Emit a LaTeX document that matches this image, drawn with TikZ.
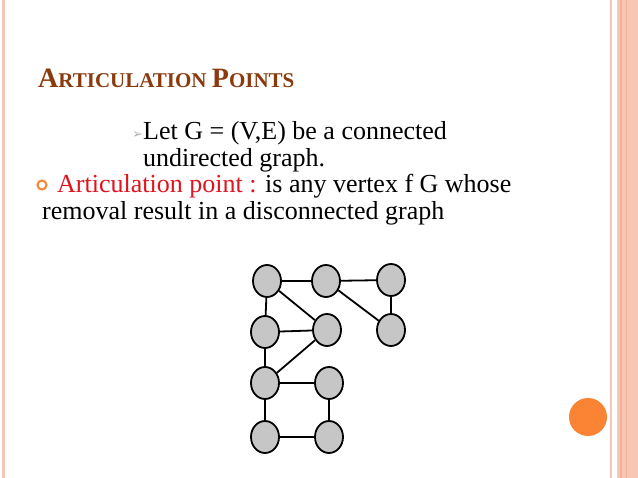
\documentclass[tikz,border=0pt]{standalone}
\usepackage{fontspec}
\setmainfont{Liberation Serif}
\newfontfamily\djv{DejaVu Sans}
\definecolor{titlec}{HTML}{8B3A0E}
\definecolor{pinkl}{HTML}{F7C6B4}
\definecolor{pinkd}{HTML}{F0B299}
\definecolor{orng}{HTML}{FA8433}
\definecolor{redt}{HTML}{E0141E}
\begin{document}
\begin{tikzpicture}[x=1pt,y=-1pt,
  vtx/.style={ellipse,draw=black,line width=1.8pt,fill=gray!45,minimum width=28pt,minimum height=32pt,inner sep=0pt},
  edge/.style={line width=1.8pt},
  txt/.style={anchor=base west,inner sep=0pt,font=\fontsize{26}{30}\selectfont}]
\usetikzlibrary{shapes.geometric}
\useasboundingbox (0,0) rectangle (638,478);
\fill[white] (0,0) rectangle (638,478);
% borders
\fill[pinkl] (2,0) rectangle (5,478);
\fill[pinkl] (610,0) rectangle (612,478);
\fill[pinkl] (617,0) rectangle (638,478);
\fill[pinkd] (620,0) rectangle (622,478);
\fill[pinkd] (626,0) rectangle (627,478);
\fill[orng] (588,417) circle (19);
% title
\node[txt,text=titlec,font=\fontsize{28}{32}\selectfont\bfseries] (title) at (38,88)
 {A\fontsize{21}{24}\selectfont RTICULATION \fontsize{28}{32}\selectfont P\fontsize{21}{24}\selectfont OINTS};
\node[txt,font=\fontsize{13}{14}\djv,text=gray!60] (b1) at (132,139) {➢};
\node[txt] (l1) at (143,140) {Let G = (V,E) be a connected};
\node[txt] (l2) at (143,167) {undirected graph.};
\draw[orng,line width=2pt] (42,185) circle (4.5);
\node[txt] (l3) at (57,193) {{\color{redt}Articulation point :} is any vertex f G whose};
\node[txt] (l4) at (42,220) {removal result in a disconnected graph};
% graph
\node[vtx] (n1) at (267,281) {};
\node[vtx] (n2) at (326,281) {};
\node[vtx] (n3) at (391,280) {};
\node[vtx] (n4) at (265,332) {};
\node[vtx] (n5) at (327,330) {};
\node[vtx] (n6) at (391,330) {};
\node[vtx] (n7) at (265,383) {};
\node[vtx] (n8) at (329,383) {};
\node[vtx] (n9) at (265,437) {};
\node[vtx] (n10) at (329,437) {};
\draw[edge] (n1)--(n2) (n2)--(n3) (n3)--(n6) (n2)--(n6) (n1)--(n5) (n1)--(n4)
 (n4)--(n5) (n4)--(n7) (n5)--(n7) (n7)--(n8) (n8)--(n10) (n7)--(n9) (n9)--(n10);
\end{tikzpicture}
\end{document}
